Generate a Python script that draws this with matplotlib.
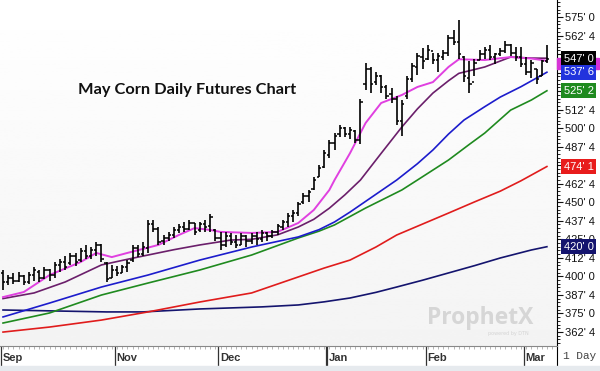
import numpy as np
import matplotlib.pyplot as plt
from matplotlib.patches import Rectangle
from matplotlib.transforms import blended_transform_factory

# daily OHLC, cents per bushel
highs = [404, 401, 402, 403, 401, 403, 406, 404, 406, 405,
         410, 412, 414, 416, 416, 419, 421, 420, 423, 422,
         410, 408, 407, 408, 411, 421, 421, 423, 438, 438,
         433, 428, 430, 433, 435, 437, 438, 436, 437, 438,
         442, 432, 430, 430, 429, 428, 429, 428, 429, 430,
         431, 430, 431, 435, 438, 443, 445, 450, 456, 458,
         467, 475, 485, 492, 497, 502, 501, 501, 499, 520,
         544, 541, 538, 536, 529, 527, 522, 519, 535, 544,
         551, 554, 556, 551, 551, 553, 563, 566, 573, 549,
         545, 547, 553, 555, 556, 551, 554, 559, 557, 555,
         555, 548, 546, 540, 546, 556]
lows = [391, 394, 395, 396, 394, 395, 397, 396, 398, 397,
        399, 403, 404, 408, 407, 410, 412, 412, 414, 410,
        396, 399, 400, 402, 403, 410, 413, 414, 416, 430,
        421, 421, 424, 426, 429, 430, 431, 428, 430, 430,
        430, 424, 418, 420, 421, 419, 421, 420, 422, 421,
        423, 424, 426, 428, 431, 433, 437, 441, 449, 450,
        458, 467, 473, 480, 485, 494, 494, 493, 490, 489,
        526, 524, 529, 524, 520, 517, 502, 495, 520, 531,
        536, 540, 546, 543, 538, 546, 549, 556, 547, 531,
        524, 535, 546, 547, 546, 543, 549, 551, 549, 545,
        541, 536, 534, 530, 535, 544]
opens = [402, 396, 399, 397, 400, 396, 401, 403, 399, 404,
         401, 408, 410, 409, 414, 411, 417, 414, 418, 421,
         409, 399, 404, 402, 406, 411, 419, 415, 419, 435,
         432, 424, 426, 428, 431, 433, 432, 436, 431, 435,
         434, 431, 426, 421, 427, 423, 421, 427, 424, 427,
         425, 429, 427, 430, 433, 437, 441, 443, 450, 454,
         459, 467, 474, 482, 490, 496, 500, 496, 498, 492,
         530, 540, 531, 535, 528, 523, 520, 505, 522, 533,
         541, 548, 547, 552, 546, 548, 551, 561, 558, 548,
         534, 531, 546, 550, 553, 548, 550, 552, 556, 551,
         548, 543, 538, 540, 535, 545]
closes = [396, 399, 397, 400, 396, 401, 404, 399, 404, 401,
          408, 410, 406, 414, 410, 417, 414, 418, 421, 412,
          398, 404, 402, 406, 409, 419, 415, 420, 435, 432,
          423, 426, 428, 431, 433, 432, 436, 430, 435, 433,
          440, 426, 421, 427, 423, 421, 427, 424, 427, 425,
          429, 427, 430, 434, 437, 441, 443, 449, 454, 457,
          465, 473, 483, 490, 495, 500, 496, 499, 492, 518,
          540, 530, 535, 528, 522, 520, 505, 516, 533, 542,
          549, 545, 553, 546, 549, 551, 561, 558, 550, 535,
          530, 544, 550, 553, 548, 550, 552, 556, 551, 548,
          543, 538, 544, 533, 545, 547]

# moving averages sampled along each line (bar index, price)
ma9_idx = [0, 4, 9, 15, 18, 21, 24, 30, 34, 37, 40, 42, 48, 53, 57, 60, 63, 64,
           67, 70, 73, 77, 80, 83, 86, 88, 93, 98, 102, 105]
ma9 = [386, 389.4, 400.9, 409.7, 415.8, 413, 415.8, 421.2, 428, 432.6, 431.3, 430,
       429.3, 430, 436, 444.8, 458.3, 465, 483.2, 503.5, 517, 522.4, 527.8, 531.1,
       541.3, 546.5, 546, 548, 547, 545.5]
ma18_idx = [0, 6, 12, 19, 24, 28, 33, 38, 44, 48, 53, 57, 60, 63, 66, 69, 73, 77,
            80, 83, 86, 88, 93, 98, 102, 105]
ma18 = [385, 388.8, 396.2, 407.7, 411.5, 414.4, 418, 421.2, 424.5, 425, 428, 433.3,
        438.5, 446, 455, 465, 483, 500.8, 513, 523.7, 532, 537, 541.3, 548, 547.3, 547.2]
ma40_idx = [0, 9, 19, 28, 38, 48, 57, 61, 64, 67, 71, 76, 80, 83, 86, 89, 93, 96,
            100, 105]
ma40 = [372.6, 382, 392.8, 400.9, 411, 419.8, 426.6, 431.5, 436.7, 443.4, 453, 465,
        476, 485.3, 496, 505.5, 514.5, 521, 528, 537.75]
ma60_idx = [0, 9, 19, 28, 38, 48, 57, 61, 64, 70, 77, 80, 86, 90, 93, 98, 102, 105]
ma60 = [368.5, 375.3, 387.4, 395.5, 404.3, 414.4, 425.9, 430.5, 434.7, 446.1, 458.3,
        465, 478.5, 489, 496.7, 512.2, 519, 525.25]
ma100_idx = [0, 9, 19, 28, 38, 48, 57, 62, 67, 72, 76, 81, 86, 91, 96, 100, 105]
ma100 = [362.4, 365.8, 370.5, 376, 382.7, 388.8, 399.6, 405.6, 411, 419.8, 427.9,
         435.3, 442.7, 450.2, 457.5, 464.5, 474.125]
ma200_idx = [0, 20, 27, 38, 50, 57, 62, 67, 72, 76, 81, 86, 91, 96, 102, 105]
ma200 = [377.3, 376, 376, 378, 379.4, 380.7, 382.8, 385.4, 389.2, 392.8, 397.4,
         402.3, 407.2, 412.4, 417.8, 420]

months = ["Sep", "Nov", "Dec", "Jan", "Feb", "Mar"]
month_idx = [0, 22, 42, 63, 82, 101]

# last-value boxes
box_vals = [547.0, 537.75, 525.25, 474.125, 420.0]
box_text = ["547' 0", "537' 6", "525' 2", "474' 1", "420' 0"]
box_colors = ["#000000", "#2233dd", "#1f8a1f", "#e81c1c", "#14146e"]
fast_last = 545.5


def fmt_price(v):
    whole = int(np.floor(v))
    eighths = int(round((v - whole) * 8))
    return f"{whole}' {eighths}"


fig = plt.figure(figsize=(6, 3.71), dpi=100)
fig.patch.set_facecolor("white")

ax = fig.add_axes([0, 25 / 371, 557 / 600, 346 / 371])
ax.set_xlim(-0.58, 106.95)
ax.set_ylim(353.0, 586.5)

# faint background gradient
grad = np.linspace(1.0, 0.955, 256).reshape(-1, 1)
ax.imshow(grad, cmap="gray", vmin=0, vmax=1, aspect="auto",
          extent=[-0.58, 106.95, 353.0, 586.5], zorder=0)

x = np.arange(len(highs))
ax.vlines(x, lows, highs, color="black", lw=1.2, zorder=3)
ax.hlines(opens, x - 0.45, x, color="black", lw=1.1, zorder=3)
ax.hlines(closes, x, x + 0.45, color="black", lw=1.1, zorder=3)

ax.plot(ma200_idx, ma200, color="#14146e", lw=1.2, zorder=2)
ax.plot(ma100_idx, ma100, color="#e01c1c", lw=1.2, zorder=2)
ax.plot(ma60_idx, ma60, color="#1f8a1f", lw=1.2, zorder=2)
ax.plot(ma40_idx, ma40, color="#1c1ccc", lw=1.2, zorder=2)
ax.plot(ma18_idx, ma18, color="#6b1f6b", lw=1.2, zorder=2)
ax.plot(ma9_idx, ma9, color="#e040e0", lw=1.4, zorder=2)

for s in ["left", "top", "bottom"]:
    ax.spines[s].set_visible(False)
ax.spines["right"].set_color("black")
ax.spines["right"].set_linewidth(0.8)
ax.set_xticks([])
ax.yaxis.tick_right()
yt = np.arange(362.5, 580, 12.5)
ax.set_yticks(yt)
# labels hidden behind the last-value boxes are left blank
covered = [550.0, 537.5, 525.0, 475.0]
ax.set_yticklabels(["" if v in covered else fmt_price(v) for v in yt],
                   fontsize=8, family="Liberation Sans")
ax.set_yticks(np.arange(355, 587, 2.5), minor=True)
ax.tick_params(axis="y", which="major", length=4, width=0.8, pad=2, colors="#111111")
ax.tick_params(axis="y", which="minor", length=2, width=0.6)

ax.text(78 / 557, 1 - 90 / 346, "May Corn Daily Futures Chart", transform=ax.transAxes,
        fontsize=11.8, fontweight="bold", family="Lato", va="center", ha="left",
        color="#111111")

ax.text(427 / 557, 1 - 318 / 346, "ProphetX", transform=ax.transAxes, fontsize=16.5,
        fontweight="bold", family="Open Sans", color="#d6d6d6", va="center", ha="left")
ax.text(488 / 557, 1 - 334 / 346, "powered by DTN", transform=ax.transAxes, fontsize=3.5,
        color="#d4d4d4", va="center", ha="left")

tr = blended_transform_factory(ax.transAxes, ax.transData)
# fast average's box sits mostly hidden behind the price box
ax.add_patch(Rectangle((1.0, fast_last - 5.5), 0.075, 7.5, transform=tr,
                       color="#d633d6", clip_on=False, zorder=4))
for v, t, c in zip(box_vals, box_text, box_colors):
    ax.text(1.012, v, t, transform=tr, fontsize=8, family="Liberation Sans", color="white",
            va="center", ha="left", clip_on=False, zorder=5,
            bbox=dict(boxstyle="square,pad=0.22", fc=c, ec="none"))

# month strip
axm = fig.add_axes([0, 5 / 371, 557 / 600, 20 / 371])
axm.set_xlim(-0.58, 106.95)
axm.set_ylim(0, 1)
axm.set_facecolor("white")
for s in ["left", "bottom"]:
    axm.spines[s].set_visible(False)
axm.spines["top"].set_color("#888888")
axm.spines["top"].set_linewidth(0.8)
axm.spines["right"].set_color("black")
axm.spines["right"].set_linewidth(0.8)
axm.set_yticks([])
axm.xaxis.tick_top()
axm.set_xticks(np.arange(0, 107, 1))
axm.set_xticklabels([])
axm.tick_params(axis="x", direction="in", length=2, width=0.5, colors="#999999")
for m, i in zip(months, month_idx):
    lw = 1.6 if m == "Jan" else 0.9
    axm.axvline(i - 0.4, color="#333333", lw=lw)
    axm.text(i - 0.1, 0.42, m, fontsize=8, fontweight="bold", family="Liberation Sans",
             color="#333333", va="center", ha="left")

fig.text(563 / 600, 1 - 356 / 371, "1 Day", fontsize=8, family="Liberation Mono",
         color="#444444", va="center", ha="left")
fig.patches.append(Rectangle((0, 0), 1, 5 / 371, transform=fig.transFigure,
                             color="#e6eaee", zorder=0))

fig.savefig("out.png", dpi=100)
